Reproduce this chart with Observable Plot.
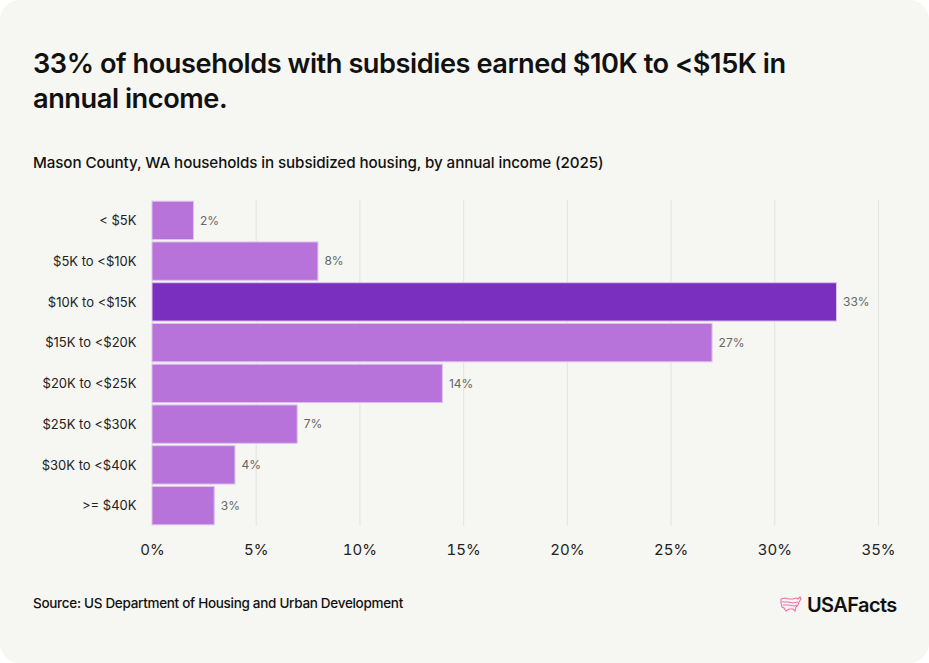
<!DOCTYPE html>
<html>
<head>
<meta charset="utf-8">
<script src="https://cdn.jsdelivr.net/npm/d3@7"></script>
<script src="https://cdn.jsdelivr.net/npm/@observablehq/plot@0.6"></script>
<style>
  html, body { margin: 0; padding: 0; background: #ffffff; }
  #card {
    position: relative; width: 929px; height: 663px; box-sizing: border-box;
    background: #f6f6f2; border-radius: 20px; overflow: hidden;
    font-family: Inter, "Open Sans", sans-serif; color: #111;
  }
  #title {
    position: absolute; left: 33px; top: 46px; width: 840px;
    font-size: 27.2px; font-weight: 600; line-height: 35px; letter-spacing: -0.45px; margin: 0;
  }
  #subtitle {
    position: absolute; left: 33px; top: 153px;
    font-size: 15.2px; font-weight: 500; letter-spacing: -0.1px; margin: 0;
  }
  #chart { position: absolute; left: 0; top: 185px; }
  #source {
    position: absolute; left: 33px; top: 595px;
    font-size: 13.5px; font-weight: 500; letter-spacing: -0.3px;
  }
  #logo { position: absolute; left: 780px; top: 593px; display: flex; align-items: center; }
  #logo span { font-size: 20px; font-weight: 600; letter-spacing: -0.6px; color: #111; margin-left: 5px; }
</style>
</head>
<body>
<div id="card">
  <h1 id="title">33% of households with subsidies earned $10K to &lt;$15K in annual income.</h1>
  <p id="subtitle">Mason County, WA households in subsidized housing, by annual income (2025)</p>
  <div id="chart"></div>
  <div id="source">Source: US Department of Housing and Urban Development</div>
  <div id="logo">
    <svg width="22" height="18" viewBox="0 0 22 18">
      <path d="M1 3 L5 2 L9 3 L13 3 L16 2 L18 3 L20 1 L21 3 L19 6 L18 9 L16 11 L15 15 L13 13 L9 13 L6 15 L4 12 L2 11 L1 7 Z" fill="none" stroke="#ef6fa8" stroke-width="1.1"/>
      <path d="M2 6 L8 6 L13 7 L18 6" fill="none" stroke="#ef6fa8" stroke-width="1"/>
      <path d="M3 9 L9 9 L14 10 L17 9" fill="none" stroke="#ef6fa8" stroke-width="1"/>
    </svg>
    <span>USAFacts</span>
  </div>
</div>
<script>
const categories = ["< $5K", "$5K to <$10K", "$10K to <$15K", "$15K to <$20K", "$20K to <$25K", "$25K to <$30K", "$30K to <$40K", ">= $40K"];
const values = [2, 8, 33, 27, 14, 7, 4, 3];
const highlight = "$10K to <$15K";
const xTicks = [0, 5, 10, 15, 20, 25, 30, 35];

const data = categories.map((c, i) => ({category: c, value: values[i]}));

const chart = Plot.plot({
  width: 929,
  height: 385,
  marginLeft: 152,
  marginRight: 51,
  marginTop: 15,
  marginBottom: 44,
  style: {background: "transparent", fontFamily: "Inter, 'Open Sans', sans-serif"},
  x: {domain: [0, 35], ticks: xTicks, tickFormat: d => d + "%", label: null, tickSize: 0, tickPadding: 18},
  y: {domain: categories, label: null, tickSize: 0, tickPadding: 16, padding: 0, round: false},
  marks: [
    Plot.gridX(xTicks, {stroke: "#e4e4e0", strokeOpacity: 1, strokeWidth: 1}),
    Plot.barX(data, {
      x: "value", y: "category",
      fill: d => d.category === highlight ? "#7b2fbe" : "#b873db",
      stroke: "#dcc4ee", strokeWidth: 1, insetTop: 1.2, insetBottom: 1.2
    }),
    Plot.text(data, {
      x: "value", y: "category", text: d => d.value + "%",
      textAnchor: "start", dx: 6, fill: "#666", fontSize: 12
    })
  ]
});
chart.querySelectorAll("[aria-label='x-axis tick label'] text").forEach(t => { t.style.fontSize = "15px"; t.setAttribute("fill", "#222"); });
chart.querySelectorAll("[aria-label='y-axis tick label'] text").forEach(t => { t.style.fontSize = "13px"; t.setAttribute("fill", "#222"); });
document.getElementById("chart").appendChild(chart);
</script>
</body>
</html>
